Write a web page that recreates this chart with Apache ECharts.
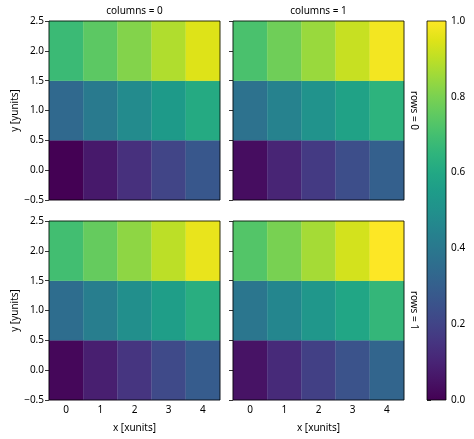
<!DOCTYPE html>
<html><head><meta charset="utf-8">
<script src="https://cdn.jsdelivr.net/npm/echarts@6/dist/echarts.min.js"></script>
<style>html,body{margin:0;padding:0;background:#fff}#c{width:474px;height:439px}</style>
</head><body><div id="c"></div>
<script>
// ---- data ----
const xCategories = ['0', '1', '2', '3', '4'];
const yTicks = [-0.5, 0.0, 0.5, 1.0, 1.5, 2.0, 2.5];
const colorbarTicks = [0.0, 0.2, 0.4, 0.6, 0.8, 1.0];
const colorRange = [0.0, 1.0];
const columnLabels = ['columns = 0', 'columns = 1'];
const rowLabels = ['rows = 0', 'rows = 1'];
// values[y][x], y = 0,1,2 (bottom to top)
const vals_r0_c0 = [
  [0.000, 0.068, 0.136, 0.203, 0.271],
  [0.339, 0.407, 0.475, 0.542, 0.610],
  [0.678, 0.746, 0.814, 0.881, 0.949]
];
const vals_r0_c1 = [
  [0.034, 0.102, 0.169, 0.237, 0.305],
  [0.373, 0.441, 0.508, 0.576, 0.644],
  [0.712, 0.780, 0.847, 0.915, 0.983]
];
const vals_r1_c0 = [
  [0.017, 0.085, 0.153, 0.220, 0.288],
  [0.356, 0.424, 0.492, 0.559, 0.627],
  [0.695, 0.763, 0.831, 0.898, 0.966]
];
const vals_r1_c1 = [
  [0.051, 0.119, 0.186, 0.254, 0.322],
  [0.390, 0.458, 0.525, 0.593, 0.661],
  [0.729, 0.797, 0.864, 0.932, 1.000]
];

// ---- style ----
const viridis = ['#440154','#471365','#482475','#463480','#414487','#3b528b','#355f8d','#2f6c8e','#2a788e','#25848e','#21918c','#1e9c89','#22a884','#2fb47c','#44bf70','#5ec962','#7ad151','#9bd93c','#bddf26','#dfe318','#fde725'];
const FONT = 'Noto Sans';
const TXT = {color: '#000', fontFamily: FONT, fontSize: 10};
const fmt = v => (v < 0 ? '\u2212' : '') + Math.abs(v).toFixed(1);

const panels = [
  {vals: vals_r0_c0, left: 49,  top: 21,  row: 0, col: 0},
  {vals: vals_r0_c1, left: 233, top: 21,  row: 0, col: 1},
  {vals: vals_r1_c0, left: 49,  top: 221, row: 1, col: 0},
  {vals: vals_r1_c1, left: 233, top: 221, row: 1, col: 1}
];
const PW = 171, PH = 179;

const grid = [], xAxis = [], yAxis = [], series = [];
panels.forEach((p, i) => {
  grid.push({left: p.left, top: p.top, width: PW, height: PH, show: true,
    backgroundColor: 'transparent', borderColor: '#000', borderWidth: 0.8, z: 10});
  const bottomRow = p.row === 1, leftCol = p.col === 0;
  xAxis.push({type: 'category', gridIndex: i, data: xCategories, boundaryGap: true,
    position: 'bottom',
    axisLine: {show: false},
    axisTick: {show: true, alignWithLabel: true, length: 4, lineStyle: {color: '#000', width: 0.8}},
    axisLabel: Object.assign({show: bottomRow, margin: 5}, TXT),
    splitLine: {show: false},
    name: bottomRow ? 'x [xunits]' : '', nameLocation: 'middle', nameGap: 23,
    nameTextStyle: TXT});
  yAxis.push({type: 'value', gridIndex: i, min: yTicks[0], max: yTicks[yTicks.length - 1], interval: 0.5,
    axisLine: {show: false},
    axisTick: {show: true, length: 4, lineStyle: {color: '#000', width: 0.8}},
    axisLabel: Object.assign({show: leftCol, margin: 5, formatter: fmt}, TXT),
    splitLine: {show: false},
    name: leftCol ? 'y [yunits]' : '', nameLocation: 'middle', nameGap: 27, nameRotate: 90,
    nameTextStyle: TXT});
  const data = [];
  p.vals.forEach((rowVals, y) => rowVals.forEach((v, x) => data.push([x, y, v])));
  series.push({type: 'custom', xAxisIndex: i, yAxisIndex: i, data: data,
    encode: {x: 0, y: 1},
    renderItem: (params, api) => {
      const c = api.coord([api.value(0), api.value(1)]);
      const s = api.size([1, 1]);
      const col = api.visual('color');
      return {type: 'rect',
        shape: {x: c[0] - s[0] / 2, y: c[1] - s[1] / 2, width: s[0], height: s[1]},
        style: {fill: col, stroke: col, lineWidth: 0.3}};
    }});
});
// top axes with column titles (xAxis 4,5)
[0, 1].forEach(i => {
  xAxis.push({type: 'category', gridIndex: i, data: xCategories, position: 'top',
    axisLine: {show: false}, axisTick: {show: false}, axisLabel: {show: false},
    name: columnLabels[i], nameLocation: 'middle', nameGap: 5, nameTextStyle: TXT});
});
// right axes with row titles (yAxis 4,5)
[1, 3].forEach((gi, k) => {
  yAxis.push({type: 'value', gridIndex: gi, min: -0.5, max: 2.5, position: 'right',
    axisLine: {show: false}, axisTick: {show: false}, axisLabel: {show: false},
    splitLine: {show: false},
    name: rowLabels[k], nameLocation: 'middle', nameGap: 5, nameRotate: -90, nameTextStyle: TXT});
});
// colorbar grid (grid 4, xAxis 6, yAxis 6)
grid.push({left: 427, top: 21, width: 19, height: 379, show: true,
  backgroundColor: 'transparent', borderColor: '#000', borderWidth: 0.8, z: 10});
xAxis.push({type: 'value', gridIndex: 4, show: false, min: 0, max: 1});
yAxis.push({type: 'value', gridIndex: 4, min: colorbarTicks[0], max: colorbarTicks[colorbarTicks.length - 1],
  interval: 0.2, position: 'right',
  axisLine: {show: false},
  axisTick: {show: true, length: 4, lineStyle: {color: '#000', width: 0.8}},
  axisLabel: Object.assign({margin: 5, formatter: fmt, showMinLabel: true, showMaxLabel: true}, TXT),
  splitLine: {show: false}});
series.push({type: 'custom', xAxisIndex: 6, yAxisIndex: 6, data: [[colorRange[0], colorRange[1]]],
  renderItem: (params, api) => {
    const lo = api.coord([0, api.value(0)]);
    const hi = api.coord([1, api.value(1)]);
    const stops = viridis.map((c, k) => ({offset: k / (viridis.length - 1), color: c}));
    return {type: 'rect',
      shape: {x: lo[0], y: hi[1], width: hi[0] - lo[0], height: lo[1] - hi[1]},
      style: {fill: new echarts.graphic.LinearGradient(0, 1, 0, 0, stops)}};
  }});

const option = {
  animation: false,
  backgroundColor: '#fff',
  grid, xAxis, yAxis, series,
  visualMap: {type: 'continuous', min: colorRange[0], max: colorRange[1], dimension: 2,
    seriesIndex: [0, 1, 2, 3], show: false,
    inRange: {color: viridis}}
};
echarts.init(document.getElementById('c'), null, {renderer: 'canvas'}).setOption(option);
</script></body></html>
